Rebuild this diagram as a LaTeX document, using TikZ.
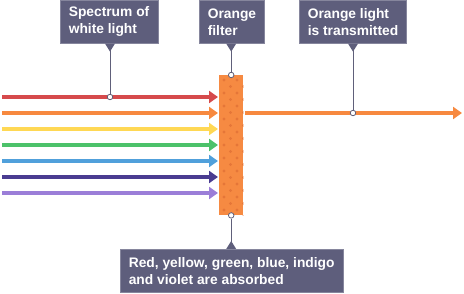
\documentclass[tikz,border=0pt]{standalone}
\usepackage{fontspec}
\setmainfont{Liberation Sans}
\usetikzlibrary{arrows.meta,positioning}

\definecolor{tagSlate}{RGB}{94,94,124}
\definecolor{wireGrey}{RGB}{96,96,122}
\definecolor{filterOrange}{RGB}{246,138,66}
\definecolor{dotOrange}{RGB}{222,110,52}
\definecolor{rayRed}{RGB}{214,74,76}
\definecolor{rayOrange}{RGB}{247,137,63}
\definecolor{rayYellow}{RGB}{255,216,84}
\definecolor{rayGreen}{RGB}{76,194,106}
\definecolor{rayBlue}{RGB}{80,160,219}
\definecolor{rayIndigo}{RGB}{74,60,145}
\definecolor{rayViolet}{RGB}{155,126,216}

\begin{document}
\begin{tikzpicture}[x=1pt, y=-1pt,
   tag/.style={fill=tagSlate, draw=tagSlate!75!white, line width=0.6pt,
               text=white, font=\fontsize{13.8}{17}\selectfont\bfseries,
               align=left, inner xsep=8.5pt, inner ysep=0pt,
               minimum height=43pt, anchor=north west},
   ray/.style={line width=4pt, -{Triangle[length=9pt, width=12pt]}},
   pin/.style={draw=wireGrey, line width=0.8pt},
   blob/.style={circle, draw=wireGrey, fill=white, line width=0.8pt,
                inner sep=0pt, minimum size=5.5pt}]

  \useasboundingbox (0,0) rectangle (464,294);

  % ===== filter =====
  \node[fill=filterOrange, minimum width=24pt, minimum height=140pt,
        inner sep=0pt, anchor=north west] (filter) at (219,75) {};
  \begin{scope}
    \clip (filter.north west) rectangle (filter.south east);
    \foreach \row in {0,...,21} {
      \pgfmathsetmacro{\shift}{mod(\row,2)*6.5}
      \foreach \col in {0,1,2}
        \fill[dotOrange!70!filterOrange] (224+\shift+13*\col, 80+6.5*\row) circle (1.6);
    }
  \end{scope}

  % ===== rays of white light =====
  \foreach \c [count=\i] in {rayRed,rayOrange,rayYellow,rayGreen,rayBlue,rayIndigo,rayViolet} {
    \coordinate (in\i) at (2,81+16*\i);
    \draw[ray, \c, shorten >=1pt] (in\i) -- (in\i -| filter.west);
  }

  % transmitted ray
  \coordinate (out) at (245,113);
  \coordinate (outEnd) at (462,113);
  \draw[ray, rayOrange] (out) -- (outEnd);

  % ===== labels =====
  \node[tag] (specTag) at (60,0) {Spectrum of\\white light};
  \node[tag] (filterTag) at (199,0) {Orange\\filter};
  \node[tag] (passTag) at (299,0) {Orange light\\is transmitted};
  \node[tag] (absorbTag) at (120,249) {Red, yellow, green, blue, indigo\\and violet are absorbed};

  \node[blob] (specDot) at (110,97) {};
  \node[blob] (filterTop) at (filter.north) {};
  \node[blob] (passDot) at (353,113) {};
  \node[blob] (filterBot) at (filter.south) {};

  % pointers
  \fill[tagSlate] (specTag.south -| specDot) ++(-5,0) -- ++(5,8) -- ++(5,-8) -- cycle;
  \fill[tagSlate] (filterTag.south -| filterTop) ++(-5,0) -- ++(5,8) -- ++(5,-8) -- cycle;
  \fill[tagSlate] (passTag.south -| passDot) ++(-5,0) -- ++(5,8) -- ++(5,-8) -- cycle;
  \fill[tagSlate] (absorbTag.north -| filterBot) ++(-5,0) -- ++(5,-8) -- ++(5,8) -- cycle;

  \draw[pin] (specTag.south -| specDot) -- (specDot);
  \draw[pin] (filterTag.south -| filterTop) -- (filterTop);
  \draw[pin] (passTag.south -| passDot) -- (passDot);
  \draw[pin] (absorbTag.north -| filterBot) -- (filterBot);

\end{tikzpicture}
\end{document}
